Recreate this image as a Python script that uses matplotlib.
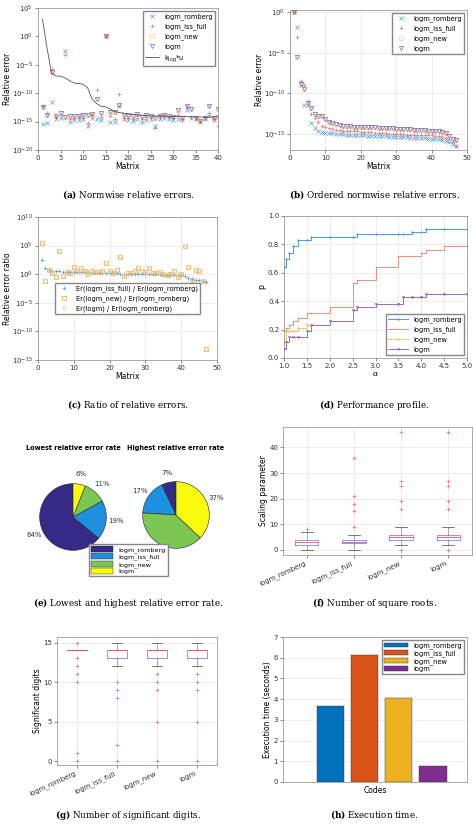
import numpy as np
import matplotlib.pyplot as plt

plt.rcParams['font.size'] = 5.5
plt.rcParams['mathtext.fontset'] = 'dejavuserif'

methods = ['logm_romberg', 'logm_iss_full', 'logm_new', 'logm']
mat_col = ['#0072BD', '#D95319', '#EDB120', '#7E2F8E']

# (a) log10 of normwise relative errors, matrices 1..40
a_rom = [-15.5, -15.3, -11.5, -14.6, -14.3, -2.5, -15.0, -14.8, -14.7, -14.6, -15.7, -14.3, -14.5, -14.8, 0.0,
         -15.0, -15.0, -12.3, -14.6, -14.8, -14.9, -14.5, -15.0, -14.7, -14.6, -15.8, -14.5, -14.3, -14.6, -14.8,
         -14.5, -14.8, -13.0, -14.3, -14.6, -15.1, -14.5, -14.0, -14.8, -14.2]
a_iss = [-12.2, -13.5, -5.8, -14.2, -13.8, -3.2, -14.5, -14.3, -14.2, -14.3, -15.3, -13.8, -9.5, -14.2, 0.0,
         -14.0, -14.5, -10.2, -14.3, -14.3, -14.5, -14.0, -14.5, -14.2, -14.3, -16.2, -14.0, -13.8, -14.2, -14.3,
         -13.8, -14.6, -12.5, -14.2, -14.3, -14.9, -14.2, -13.5, -14.5, -15.8]
a_new = [-12.5, -13.8, -6.2, -14.0, -13.5, -14.2, -14.0, -14.0, -14.1, -13.8, -13.8, -13.7, -11.0, -13.5, 0.0,
         -13.3, -13.3, -12.0, -13.8, -14.0, -14.1, -13.7, -14.2, -13.9, -14.0, -14.3, -14.0, -13.8, -14.0, -14.2,
         -13.0, -14.4, -12.3, -12.8, -14.4, -14.9, -14.3, -12.3, -14.3, -12.7]
a_logm = a_new
a_klog = [3.0, -2.0, -6.5, -7.0, -7.0, -7.3, -7.8, -8.2, -8.3, -8.4, -9.0, -11.0, -11.8, -12.3, -12.4, -12.8,
          -13.2, -13.4, -13.5, -13.6, -13.7, -13.8, -13.85, -13.9, -14.0, -14.0, -14.0, -14.05, -14.1, -14.1,
          -14.1, -14.1, -14.1, -14.15, -14.15, -14.2, -14.2, -14.2, -14.2, -14.0]

# (b) ordered log10 errors, 47 matrices
b_rom = [0.0, -1.8, -9.0, -11.5, -11.5, -13.7, -14.3, -14.7, -14.8, -14.9, -14.9, -14.9, -15.0, -15.0, -15.0,
         -15.1, -15.1, -15.2, -15.2, -15.2, -15.2, -15.3, -15.3, -15.3, -15.3, -15.3, -15.3, -15.4, -15.4, -15.4,
         -15.4, -15.4, -15.4, -15.5, -15.5, -15.5, -15.5, -15.5, -15.6, -15.6, -15.6, -15.7, -15.8, -15.9, -16.0,
         -16.2, -16.5]
b_iss = [0.0, -3.0, -8.5, -9.0, -11.0, -12.5, -13.0, -13.5, -14.0, -14.2, -14.3, -14.4, -14.5, -14.5, -14.6,
         -14.6, -14.7, -14.7, -14.7, -14.8, -14.8, -14.8, -14.8, -14.9, -14.9, -14.9, -14.9, -15.0, -15.0, -15.0,
         -15.0, -15.0, -15.1, -15.1, -15.1, -15.1, -15.1, -15.2, -15.2, -15.2, -15.3, -15.3, -15.4, -15.5, -15.7,
         -16.0, -16.5]
b_new = [0.0, -5.5, -8.8, -9.5, -11.2, -11.8, -12.5, -12.8, -12.8, -13.2, -13.5, -13.7, -13.8, -13.9, -14.0,
         -14.0, -14.0, -14.1, -14.1, -14.1, -14.2, -14.2, -14.2, -14.2, -14.3, -14.3, -14.3, -14.3, -14.3, -14.4,
         -14.4, -14.4, -14.4, -14.4, -14.5, -14.5, -14.5, -14.5, -14.6, -14.6, -14.6, -14.7, -14.8, -14.9, -15.3,
         -15.6, -15.8]
b_logm = b_new

# (c) log10 of error ratios
c_iss = [2.5, 1.0, 0.7, 0.6, 0.5, 0.5, 0.45, 0.4, 0.4, 0.35, 0.35, 0.3, 0.3, 0.3, 0.25, 0.25, 0.2, 0.2, 0.2,
         0.2, 0.15, 0.15, 0.1, 0.1, 0.1, 0.1, 0.05, 0.05, 0.0, 0.0, 0.0, 0.0, -0.05, -0.05, -0.1, -0.1, -0.1,
         -0.15, -0.2, -0.2, -0.3, -0.6, -0.8, -1.0, -1.0, -1.2, -1.3]
c_new = [5.5, -1.2, 0.8, 0.2, -0.5, 4.0, -0.3, 0.3, 0.2, 1.3, 0.5, 1.0, 0.5, 0.0, 0.5, 0.3, 0.4, 0.6, 2.0, 0.5,
         0.2, 0.8, 3.0, -0.3, 0.2, 0.2, 0.5, 1.0, 0.6, 0.3, 1.0, 0.2, 0.2, 0.3, 0.0, -0.1, 0.0, 0.5, -0.5, 0.0,
         5.0, 1.2, -1.0, 0.7, 0.5, -1.2, -13.0]
c_logm = c_new

# (d) performance profile steps
d_alpha = [1.0, 1.05, 1.1, 1.2, 1.3, 1.5, 1.6, 2.0, 2.5, 2.6, 3.0, 3.5, 3.6, 3.8, 4.0, 4.1, 4.5, 5.0]
d_rom = [0.64, 0.70, 0.74, 0.79, 0.83, 0.83, 0.85, 0.85, 0.85, 0.87, 0.87, 0.87, 0.87, 0.89, 0.89, 0.91, 0.91, 0.91]
d_iss = [0.19, 0.21, 0.23, 0.26, 0.28, 0.32, 0.32, 0.36, 0.53, 0.55, 0.64, 0.72, 0.72, 0.72, 0.74, 0.76, 0.79, 0.79]
d_new = [0.11, 0.19, 0.19, 0.19, 0.21, 0.23, 0.23, 0.26, 0.34, 0.36, 0.38, 0.38, 0.43, 0.43, 0.43, 0.45, 0.45, 0.45]
d_logm = [0.06, 0.11, 0.15, 0.15, 0.15, 0.19, 0.23, 0.26, 0.34, 0.36, 0.38, 0.38, 0.43, 0.43, 0.43, 0.45, 0.45, 0.45]

# (e) pies
low_rate = [64, 19, 11, 6]
high_rate = [7, 17, 39, 37]
pie_col = ['#352A87', '#1E90E0', '#7CC653', '#F9FB0E']

# (f) boxplot stats: whislo, q1, med, q3, whishi, fliers
f_stats = [(0, 2, 3, 4, 7, [8]), (0, 2.5, 3, 4, 6, [9, 15, 18, 21, 36]),
           (2, 4, 5, 6, 9, [0, 16, 19, 25, 27, 46]), (2, 4, 5, 6, 9, [0, 16, 19, 25, 27, 46])]
# (g)
g_stats = [(14, 14, 14, 14, 14, [15, 13, 12, 11, 10, 1, 0]), (12, 13, 14, 14, 15, [10, 9, 8, 2, 0]),
           (12, 13, 14, 14, 15, [11, 10, 9, 5, 0]), (12, 13, 14, 14, 15, [11, 10, 9, 5, 0])]
# (h)
exec_time = [3.65, 6.15, 4.05, 0.75]

fig = plt.figure(figsize=(4.74, 8.24), dpi=100)
W, H = 474, 824
def ax_px(x0, y0, x1, y1):
    return fig.add_axes([x0 / W, 1 - y1 / H, (x1 - x0) / W, (y1 - y0) / H])

def style(ax):
    ax.grid(True, color='#e0e0e0', lw=0.4)
    ax.set_axisbelow(True)
    for s in ax.spines.values():
        s.set_color('#888888'); s.set_linewidth(0.5)
    ax.tick_params(length=2, width=0.4, colors='#333333', pad=1.5, labelsize=5)

def caption(y, letter, text, xc):
    fig.text(xc, 1 - y / H, r'$\bf{(' + letter + r')}$ ' + text, ha='center', va='center',
             family='DejaVu Serif', fontsize=6.3)

ms = 2.5
# (a)
ax = ax_px(38, 8, 218, 150)
x = np.arange(1, 41)
ax.plot(x, 10.0 ** np.array(a_rom), 'x', color='#4c9be8', ms=ms, mew=0.5, label='logm_romberg')
ax.plot(x, 10.0 ** np.array(a_iss), '+', color='#e87070', ms=ms, mew=0.5, label='logm_iss_full')
ax.plot(x, 10.0 ** np.array(a_new), 's', mfc='none', color='#f2c77a', ms=ms, mew=0.4, label='logm_new')
ax.plot(x, 10.0 ** np.array(a_logm), 'v', mfc='none', color='#7c6ab0', ms=ms + 0.5, mew=0.5, label='logm')
ax.plot(x, 10.0 ** np.array(a_klog), '-', color='#555555', lw=0.6, label=r'k$_{\rm log}$*u')
ax.set_yscale('log'); ax.set_ylim(1e-20, 1e5); ax.set_xlim(0, 40)
ax.set_yticks([1e-20, 1e-15, 1e-10, 1e-5, 1e0, 1e5]); ax.minorticks_off()
ax.set_xlabel('Matrix', labelpad=1); ax.set_ylabel('Relative error', labelpad=0)
style(ax); ax.grid(False)
ax.legend(loc='upper right', fontsize=4.8, framealpha=1, edgecolor='#888', fancybox=False, borderpad=0.3, handlelength=2)
caption(195, 'a', 'Normwise relative errors.', 0.27)

# (b)
ax = ax_px(290, 10, 467, 150)
x = np.arange(1, 48)
ax.plot(x, 10.0 ** np.array(b_rom), 'x', color='#4c9be8', ms=ms, mew=0.5, label='logm_romberg')
ax.plot(x, 10.0 ** np.array(b_iss), '+', color='#e87070', ms=ms, mew=0.5, label='logm_iss_full')
ax.plot(x, 10.0 ** np.array(b_new), 's', mfc='none', color='#f2c77a', ms=ms, mew=0.4, label='logm_new')
ax.plot(x, 10.0 ** np.array(b_logm), 'v', mfc='none', color='#7c6ab0', ms=ms + 0.5, mew=0.5, label='logm')
ax.set_yscale('log'); ax.set_ylim(10 ** -17, 10 ** 0.3); ax.set_xlim(0, 50)
ax.set_yticks([1e-15, 1e-10, 1e-5, 1e0]); ax.minorticks_off()
ax.set_xlabel('Matrix', labelpad=1); ax.set_ylabel('Relative error', labelpad=0)
style(ax)
ax.legend(loc='upper right', fontsize=4.8, framealpha=1, edgecolor='#888', fancybox=False, borderpad=0.3)
caption(195, 'b', 'Ordered normwise relative errors.', 0.79)

# (c)
ax = ax_px(38, 217, 217, 360)
ax.plot(x, 10.0 ** np.array(c_iss), '+', color='#4c9be8', ms=ms, mew=0.5, label='Er(logm_iss_full) / Er(logm_romberg)')
ax.plot(x, 10.0 ** np.array(c_new), 's', mfc='none', color='#e8a848', ms=ms, mew=0.5, label='Er(logm_new) / Er(logm_romberg)')
ax.plot(x, 10.0 ** np.array(c_logm), 'v', mfc='none', color='#f2c77a', ms=ms + 0.5, mew=0.4, label='Er(logm) / Er(logm_romberg)')
ax.set_yscale('log'); ax.set_ylim(1e-15, 1e10); ax.set_xlim(0, 50)
ax.set_yticks([1e-15, 1e-10, 1e-5, 1e0, 1e5, 1e10])
ax.set_xlabel('Matrix', labelpad=1); ax.set_ylabel('Relative error ratio', labelpad=0)
style(ax); ax.grid(True, which='minor', color='#f0f0f0', lw=0.3)
ax.legend(loc='center', bbox_to_anchor=(0.5, 0.43), fontsize=4.8, framealpha=1, edgecolor='#888', fancybox=False, borderpad=0.3)
caption(405, 'c', 'Ratio of relative errors.', 0.27)

# (d)
ax = ax_px(284, 216, 467, 358)
for yv, c, m, lab in zip([d_rom, d_iss, d_new, d_logm], ['#4c9be8', '#e8907a', '#f2c77a', '#9b6fc0'],
                         ['*', '+', 's', 'v'], methods):
    ax.step(d_alpha, yv, where='post', color=c, lw=0.7, marker=m, ms=1.8, mfc='none', mew=0.4, label=lab)
ax.set_xlim(1, 5); ax.set_ylim(0, 1)
ax.set_xlabel(r'$\alpha$', labelpad=0); ax.set_ylabel('p', labelpad=1)
style(ax)
ax.legend(loc='lower right', fontsize=4.8, framealpha=1, edgecolor='#888', fancybox=False, borderpad=0.3, handlelength=3)
caption(405, 'd', 'Performance profile.', 0.79)

# (e)
for cx, cy, vals, title in [(73, 517, low_rate, 'Lowest relative error rate'),
                            (176, 515, high_rate, 'Highest relative error rate')]:
    ax = ax_px(cx - 34, cy - 34, cx + 34, cy + 34)
    ax.pie(vals, colors=pie_col, startangle=90, counterclock=True, radius=1.0,
           autopct='%d%%', pctdistance=1.3, textprops={'fontsize': 5, 'color': '#333'},
           wedgeprops={'edgecolor': '#222', 'linewidth': 0.4})
    ax.set_xlim(-1.02, 1.02); ax.set_ylim(-1.02, 1.02)
    ax.set_aspect('equal')
    fig.text(cx / W, 1 - 450 / H, title, ha='center', fontweight='bold', fontsize=4.7)
handles = [plt.Rectangle((0, 0), 1, 1, fc=c, ec='#222', lw=0.3) for c in pie_col]
fig.legend(handles, methods, loc='upper left', bbox_to_anchor=(86 / W, 1 - 541 / H), fontsize=4.6,
           framealpha=1, edgecolor='#888', fancybox=False, borderpad=0.3, handlelength=3.5, handleheight=1.0,
           labelspacing=0.1)
caption(603, 'e', 'Lowest and highest relative error rate.', 0.27)

def boxes(ax, stats):
    bx = [dict(whislo=s[0], q1=s[1], med=s[2], q3=s[3], whishi=s[4], fliers=s[5], label=m)
          for s, m in zip(stats, methods)]
    ax.bxp(bx, widths=0.5, boxprops=dict(color='#6a6aff', lw=0.5),
           medianprops=dict(color='#ff4d4d', lw=0.6),
           whiskerprops=dict(color='#444', lw=0.4, ls='--'), capprops=dict(color='#444', lw=0.5),
           flierprops=dict(marker='+', mec='#ff6666', ms=2.5, mew=0.5))
    ax.set_xticks([1, 2, 3, 4]); ax.set_xticklabels(methods, rotation=25, ha='right')
    style(ax)

# (f)
ax = ax_px(283, 427, 472, 555)
boxes(ax, f_stats)
ax.set_ylim(-2, 48); ax.set_yticks([0, 10, 20, 30, 40]); ax.set_ylabel('Scaling parameter', labelpad=1)
caption(603, 'f', 'Number of square roots.', 0.79)

# (g)
ax = ax_px(57, 637, 217, 765)
boxes(ax, g_stats)
ax.set_ylim(-0.5, 15.7); ax.set_yticks([0, 5, 10, 15]); ax.set_ylabel('Significant digits', labelpad=1)
caption(815, 'g', 'Number of significant digits.', 0.27)

# (h)
ax = ax_px(283, 637, 467, 782)
for i, (v, c, m) in enumerate(zip(exec_time, mat_col, methods)):
    ax.bar(i + 1, v, width=0.8, color=c, edgecolor='#333', lw=0.3, label=m)
ax.set_xlim(-0.4, 5.0); ax.set_ylim(0, 7); ax.set_xticks([])
ax.set_xlabel('Codes', labelpad=3); ax.set_ylabel('Execution time (seconds)', labelpad=1)
style(ax)
ax.legend(loc='upper right', fontsize=4.8, framealpha=1, edgecolor='#888', fancybox=False, borderpad=0.3,
          handlelength=3.5, labelspacing=0.15)
caption(815, 'h', 'Execution time.', 0.79)

fig.savefig('out.png', dpi=100, facecolor='white')
